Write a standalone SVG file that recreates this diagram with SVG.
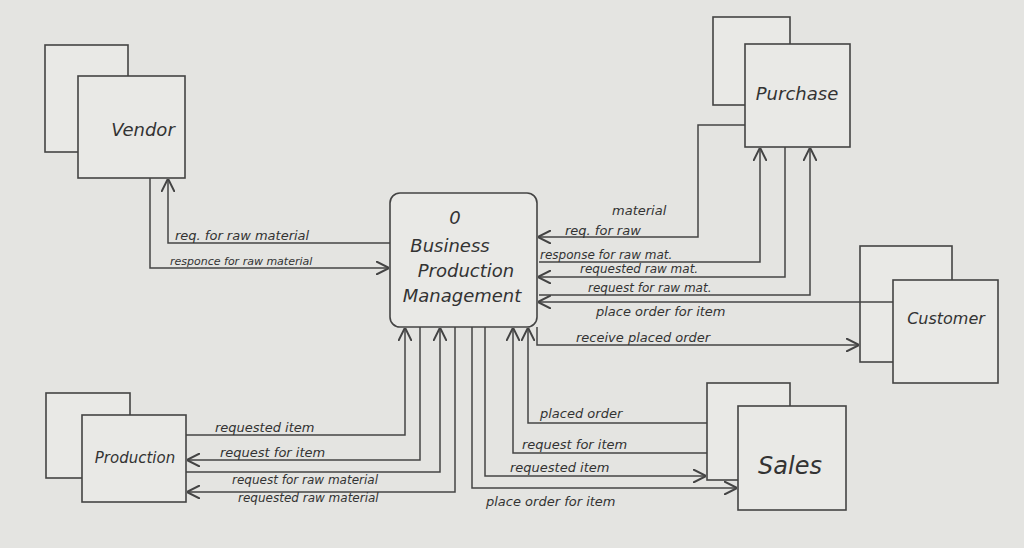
<svg xmlns="http://www.w3.org/2000/svg" width="1024" height="548" viewBox="0 0 1024 548">
<style>
.b{fill:#e9e9e6;stroke:#444;stroke-width:1.6}
.c{fill:none;stroke:#444;stroke-width:1.5}
.t{font-family:"DejaVu Sans",sans-serif;font-size:13px;fill:#333;font-style:italic}
.n{font-family:"DejaVu Sans",sans-serif;font-size:18px;fill:#333;font-style:italic;text-anchor:middle}
</style>
<defs><marker id="a" viewBox="0 0 10 10" refX="9" refY="5" markerWidth="9" markerHeight="9" orient="auto-start-reverse"><path d="M0,0 L10,5 L0,10" fill="none" stroke="#444" stroke-width="1.5"/></marker></defs>
<rect width="1024" height="548" fill="#e4e4e1"/>
<g id="vendor"><rect class="b" x="45" y="45" width="83" height="107"/><rect class="b" x="78" y="76" width="107" height="102"/><text class="n" x="143" y="136">Vendor</text></g>
<g id="purchase"><rect class="b" x="713" y="17" width="77" height="88"/><rect class="b" x="745" y="44" width="105" height="103"/><text class="n" x="797" y="100">Purchase</text></g>
<g id="customer"><rect class="b" x="860" y="246" width="92" height="116"/><rect class="b" x="893" y="280" width="105" height="103"/><text class="n" x="946" y="324" style="font-size:16px">Customer</text></g>
<g id="production"><rect class="b" x="46" y="393" width="84" height="85"/><rect class="b" x="82" y="415" width="104" height="87"/><text class="n" x="135" y="463" style="font-size:15px">Production</text></g>
<g id="sales"><rect class="b" x="707" y="383" width="83" height="97"/><rect class="b" x="738" y="406" width="108" height="104"/><text class="n" x="790" y="474" style="font-size:24px">Sales</text></g>
<g id="process"><rect class="b" x="390" y="193" width="147" height="134" rx="10" stroke-width="2.2"/><text class="n" x="455" y="224">0</text><text class="n" x="450" y="252">Business</text><text class="n" x="466" y="277">Production</text><text class="n" x="462" y="302">Management</text></g>
<g id="connectors">
<path class="c" d="M390,243 H168 V180" marker-end="url(#a)"/>
<path class="c" d="M150,178 V268 H388" marker-end="url(#a)"/>
<path class="c" d="M745,125 H698 V237 H539" marker-end="url(#a)"/>
<path class="c" d="M539,262 H760 V149" marker-end="url(#a)"/>
<path class="c" d="M785,147 V277 H539" marker-end="url(#a)"/>
<path class="c" d="M539,295 H810 V149" marker-end="url(#a)"/>
<path class="c" d="M893,302 H539" marker-end="url(#a)"/>
<path class="c" d="M537,327 V345 H858" marker-end="url(#a)"/>
<path class="c" d="M186,435 H405 V329" marker-end="url(#a)"/>
<path class="c" d="M420,327 V460 H188" marker-end="url(#a)"/>
<path class="c" d="M186,472 H440 V329" marker-end="url(#a)"/>
<path class="c" d="M455,327 V492 H188" marker-end="url(#a)"/>
<path class="c" d="M707,423 H528 V329" marker-end="url(#a)"/>
<path class="c" d="M707,453 H513 V329" marker-end="url(#a)"/>
<path class="c" d="M485,327 V476 H705" marker-end="url(#a)"/>
<path class="c" d="M472,327 V488 H736" marker-end="url(#a)"/>
</g>
<g id="labels">
<text class="t" x="175" y="240">req. for raw material</text>
<text class="t" x="170" y="265" style="font-size:11px">responce for raw material</text>
<text class="t" x="612" y="215">material</text>
<text class="t" x="565" y="235">req. for raw</text>
<text class="t" x="540" y="259" style="font-size:12px">response for raw mat.</text>
<text class="t" x="580" y="273" style="font-size:12px">requested raw mat.</text>
<text class="t" x="588" y="292" style="font-size:12px">request for raw mat.</text>
<text class="t" x="596" y="316">place order for item</text>
<text class="t" x="576" y="342">receive placed order</text>
<text class="t" x="215" y="432">requested item</text>
<text class="t" x="220" y="457">request for item</text>
<text class="t" x="232" y="484" style="font-size:12px">request for raw material</text>
<text class="t" x="238" y="502" style="font-size:12px">requested raw material</text>
<text class="t" x="540" y="418">placed order</text>
<text class="t" x="522" y="449">request for item</text>
<text class="t" x="510" y="472">requested item</text>
<text class="t" x="486" y="506">place order for item</text>
</g>
</svg>
